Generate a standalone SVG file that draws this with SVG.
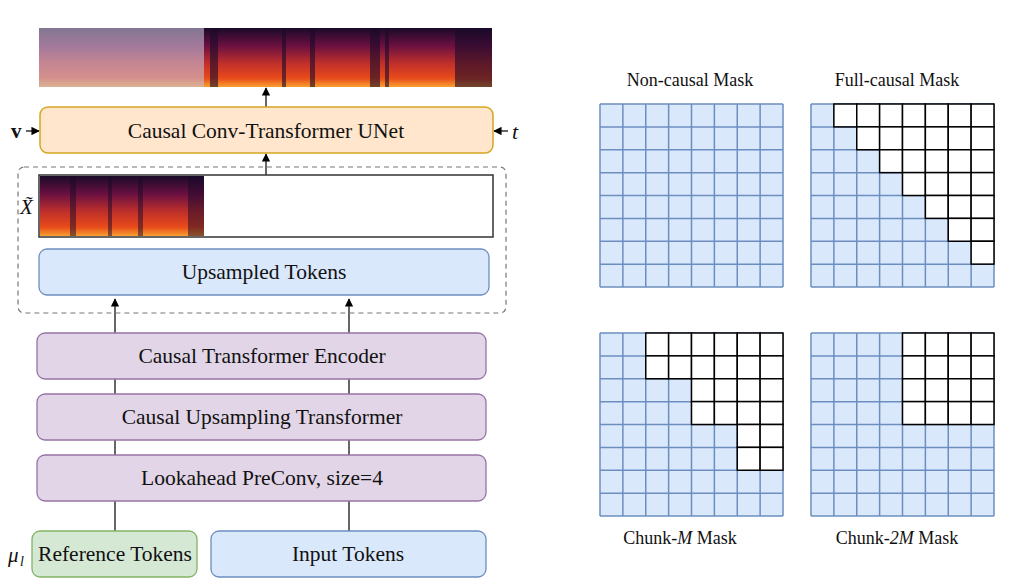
<svg xmlns="http://www.w3.org/2000/svg" xmlns:xlink="http://www.w3.org/1999/xlink" width="1016" height="586" viewBox="0 0 1016 586">
<style>
text{font-family:"Liberation Serif","Times New Roman",serif;fill:#111;}
.lbl{font-size:21.5px;text-anchor:middle;dominant-baseline:central;}
.cap{font-size:18px;text-anchor:middle;}
.purple{fill:#e1d5e7;stroke:#9673a6;stroke-width:1.3;}
.blue{fill:#dae8fc;stroke:#6c8ebf;stroke-width:1.3;}
.green{fill:#d5e8d4;stroke:#82b366;stroke-width:1.3;}
.orange{fill:#ffe6cc;stroke:#d6a722;stroke-width:1.5;}
.ln{stroke:#000;stroke-width:1.2;fill:none;}
</style>
<defs>
<marker id="ah" viewBox="0 0 10 10" refX="9" refY="5" markerWidth="7" markerHeight="7" orient="auto"><path d="M0,0 L10,5 L0,10 z" fill="#000"/></marker>
<linearGradient id="spec" x1="0" y1="0" x2="0" y2="1">
<stop offset="0" stop-color="#1a0a2a"/><stop offset="0.3" stop-color="#6a1040"/><stop offset="0.6" stop-color="#c0302a"/><stop offset="0.85" stop-color="#e84a1a"/><stop offset="1" stop-color="#f8a030"/>
</linearGradient>
<g id="grid">
<rect width="183" height="183" fill="#dae8fc"/>
<path d="M0,0V183M22.875,0V183M45.75,0V183M68.625,0V183M91.5,0V183M114.375,0V183M137.25,0V183M160.125,0V183M183,0V183M0,0H183M0,22.875H183M0,45.75H183M0,68.625H183M0,91.5H183M0,114.375H183M0,137.25H183M0,160.125H183M0,183H183" stroke="#6c8ebf" stroke-width="1.5" fill="none"/>
</g>
<rect id="w" width="22.875" height="22.875" fill="#fff" stroke="#000" stroke-width="1.5"/>
</defs>

<g id="connectors">
<path class="ln" d="M115,531V299" marker-end="url(#ah)"/>
<path class="ln" d="M349,531V299" marker-end="url(#ah)"/>
<path class="ln" d="M266,175V154" marker-end="url(#ah)"/>
<path class="ln" d="M266,107V88" marker-end="url(#ah)"/>
<path class="ln" d="M26,131H39" marker-end="url(#ah)"/>
<path class="ln" d="M508,131H494" marker-end="url(#ah)"/>
</g>

<g id="spectrogram-top">
<rect x="39" y="28" width="453" height="59" fill="url(#spec)"/>
<g fill="#1a0a2a" opacity="0.6">
<rect x="210" y="28" width="8" height="59"/><rect x="282" y="28" width="4" height="59"/><rect x="310" y="28" width="5" height="59"/><rect x="370" y="28" width="10" height="59"/><rect x="385" y="28" width="4" height="59"/><rect x="455" y="28" width="37" height="59"/>
</g>
<rect x="39" y="28" width="165" height="59" fill="#c8c0d8" opacity="0.6"/>
</g>

<g id="unet">
<rect class="orange" x="40" y="107" width="453" height="46" rx="8"/>
<text class="lbl" x="266" y="131">Causal Conv-Transformer UNet</text>
<text x="11" y="138" style="font-size:21px;font-weight:bold">v</text>
<text x="512" y="139" style="font-size:22px;font-style:italic">t</text>
</g>

<g id="dashed-group">
<rect x="18" y="167" width="488" height="146" rx="6" fill="none" stroke="#777" stroke-width="1.2" stroke-dasharray="5,4"/>
</g>

<g id="xtilde">
<rect x="39" y="175" width="454" height="62" fill="#fff" stroke="#333" stroke-width="1.5"/>
<rect x="40" y="176" width="164" height="60" fill="url(#spec)"/>
<g fill="#1a0a2a" opacity="0.5"><rect x="70" y="176" width="6" height="60"/><rect x="108" y="176" width="4" height="60"/><rect x="138" y="176" width="5" height="60"/><rect x="188" y="176" width="16" height="60"/></g>
<text x="20" y="214" style="font-size:21px;font-style:italic">X̃</text>
</g>

<g id="upsampled">
<rect class="blue" x="39" y="249" width="450" height="46" rx="8"/>
<text class="lbl" x="264" y="272">Upsampled Tokens</text>
</g>

<g id="encoder">
<rect class="purple" x="37" y="333" width="449" height="46" rx="8"/>
<text class="lbl" x="262" y="356">Causal Transformer Encoder</text>
</g>
<g id="upsampler">
<rect class="purple" x="37" y="394" width="449" height="46" rx="8"/>
<text class="lbl" x="262" y="417">Causal Upsampling Transformer</text>
</g>
<g id="preconv">
<rect class="purple" x="37" y="455" width="449" height="46" rx="8"/>
<text class="lbl" x="262" y="478">Lookahead PreConv, size=4</text>
</g>
<g id="reference">
<rect class="green" x="32" y="531" width="165" height="46" rx="8"/>
<text class="lbl" x="115" y="554">Reference Tokens</text>
<text x="8" y="562" style="font-size:21px;font-style:italic">μ</text>
<text x="20" y="566" style="font-size:14px;font-style:italic">l</text>
</g>
<g id="input">
<rect class="blue" x="211" y="531" width="275" height="46" rx="8"/>
<text class="lbl" x="348" y="554">Input Tokens</text>
</g>

<g id="mask-noncausal">
<text class="cap" x="690" y="86">Non-causal Mask</text>
<use xlink:href="#grid" x="600" y="104"/>
</g>
<g id="mask-fullcausal">
<text class="cap" x="897" y="86">Full-causal Mask</text>
<g transform="translate(811,104)">
<use xlink:href="#grid"/>
<use xlink:href="#w" x="22.875" y="0"/><use xlink:href="#w" x="45.75" y="0"/><use xlink:href="#w" x="68.625" y="0"/><use xlink:href="#w" x="91.5" y="0"/><use xlink:href="#w" x="114.375" y="0"/><use xlink:href="#w" x="137.25" y="0"/><use xlink:href="#w" x="160.125" y="0"/>
<use xlink:href="#w" x="45.75" y="22.875"/><use xlink:href="#w" x="68.625" y="22.875"/><use xlink:href="#w" x="91.5" y="22.875"/><use xlink:href="#w" x="114.375" y="22.875"/><use xlink:href="#w" x="137.25" y="22.875"/><use xlink:href="#w" x="160.125" y="22.875"/>
<use xlink:href="#w" x="68.625" y="45.75"/><use xlink:href="#w" x="91.5" y="45.75"/><use xlink:href="#w" x="114.375" y="45.75"/><use xlink:href="#w" x="137.25" y="45.75"/><use xlink:href="#w" x="160.125" y="45.75"/>
<use xlink:href="#w" x="91.5" y="68.625"/><use xlink:href="#w" x="114.375" y="68.625"/><use xlink:href="#w" x="137.25" y="68.625"/><use xlink:href="#w" x="160.125" y="68.625"/>
<use xlink:href="#w" x="114.375" y="91.5"/><use xlink:href="#w" x="137.25" y="91.5"/><use xlink:href="#w" x="160.125" y="91.5"/>
<use xlink:href="#w" x="137.25" y="114.375"/><use xlink:href="#w" x="160.125" y="114.375"/>
<use xlink:href="#w" x="160.125" y="137.25"/>
</g>
</g>
<g id="mask-chunkM">
<text class="cap" x="680" y="544">Chunk-<tspan font-style="italic">M</tspan> Mask</text>
<g transform="translate(600,333)">
<use xlink:href="#grid"/>
<use xlink:href="#w" x="45.75" y="0"/><use xlink:href="#w" x="68.625" y="0"/><use xlink:href="#w" x="91.5" y="0"/><use xlink:href="#w" x="114.375" y="0"/><use xlink:href="#w" x="137.25" y="0"/><use xlink:href="#w" x="160.125" y="0"/>
<use xlink:href="#w" x="45.75" y="22.875"/><use xlink:href="#w" x="68.625" y="22.875"/><use xlink:href="#w" x="91.5" y="22.875"/><use xlink:href="#w" x="114.375" y="22.875"/><use xlink:href="#w" x="137.25" y="22.875"/><use xlink:href="#w" x="160.125" y="22.875"/>
<use xlink:href="#w" x="91.5" y="45.75"/><use xlink:href="#w" x="114.375" y="45.75"/><use xlink:href="#w" x="137.25" y="45.75"/><use xlink:href="#w" x="160.125" y="45.75"/>
<use xlink:href="#w" x="91.5" y="68.625"/><use xlink:href="#w" x="114.375" y="68.625"/><use xlink:href="#w" x="137.25" y="68.625"/><use xlink:href="#w" x="160.125" y="68.625"/>
<use xlink:href="#w" x="137.25" y="91.5"/><use xlink:href="#w" x="160.125" y="91.5"/>
<use xlink:href="#w" x="137.25" y="114.375"/><use xlink:href="#w" x="160.125" y="114.375"/>
</g>
</g>
<g id="mask-chunk2M">
<text class="cap" x="897" y="544">Chunk-<tspan font-style="italic">2M</tspan> Mask</text>
<g transform="translate(811,333)">
<use xlink:href="#grid"/>
<use xlink:href="#w" x="91.5" y="0"/><use xlink:href="#w" x="114.375" y="0"/><use xlink:href="#w" x="137.25" y="0"/><use xlink:href="#w" x="160.125" y="0"/>
<use xlink:href="#w" x="91.5" y="22.875"/><use xlink:href="#w" x="114.375" y="22.875"/><use xlink:href="#w" x="137.25" y="22.875"/><use xlink:href="#w" x="160.125" y="22.875"/>
<use xlink:href="#w" x="91.5" y="45.75"/><use xlink:href="#w" x="114.375" y="45.75"/><use xlink:href="#w" x="137.25" y="45.75"/><use xlink:href="#w" x="160.125" y="45.75"/>
<use xlink:href="#w" x="91.5" y="68.625"/><use xlink:href="#w" x="114.375" y="68.625"/><use xlink:href="#w" x="137.25" y="68.625"/><use xlink:href="#w" x="160.125" y="68.625"/>
</g>
</g>
</svg>
